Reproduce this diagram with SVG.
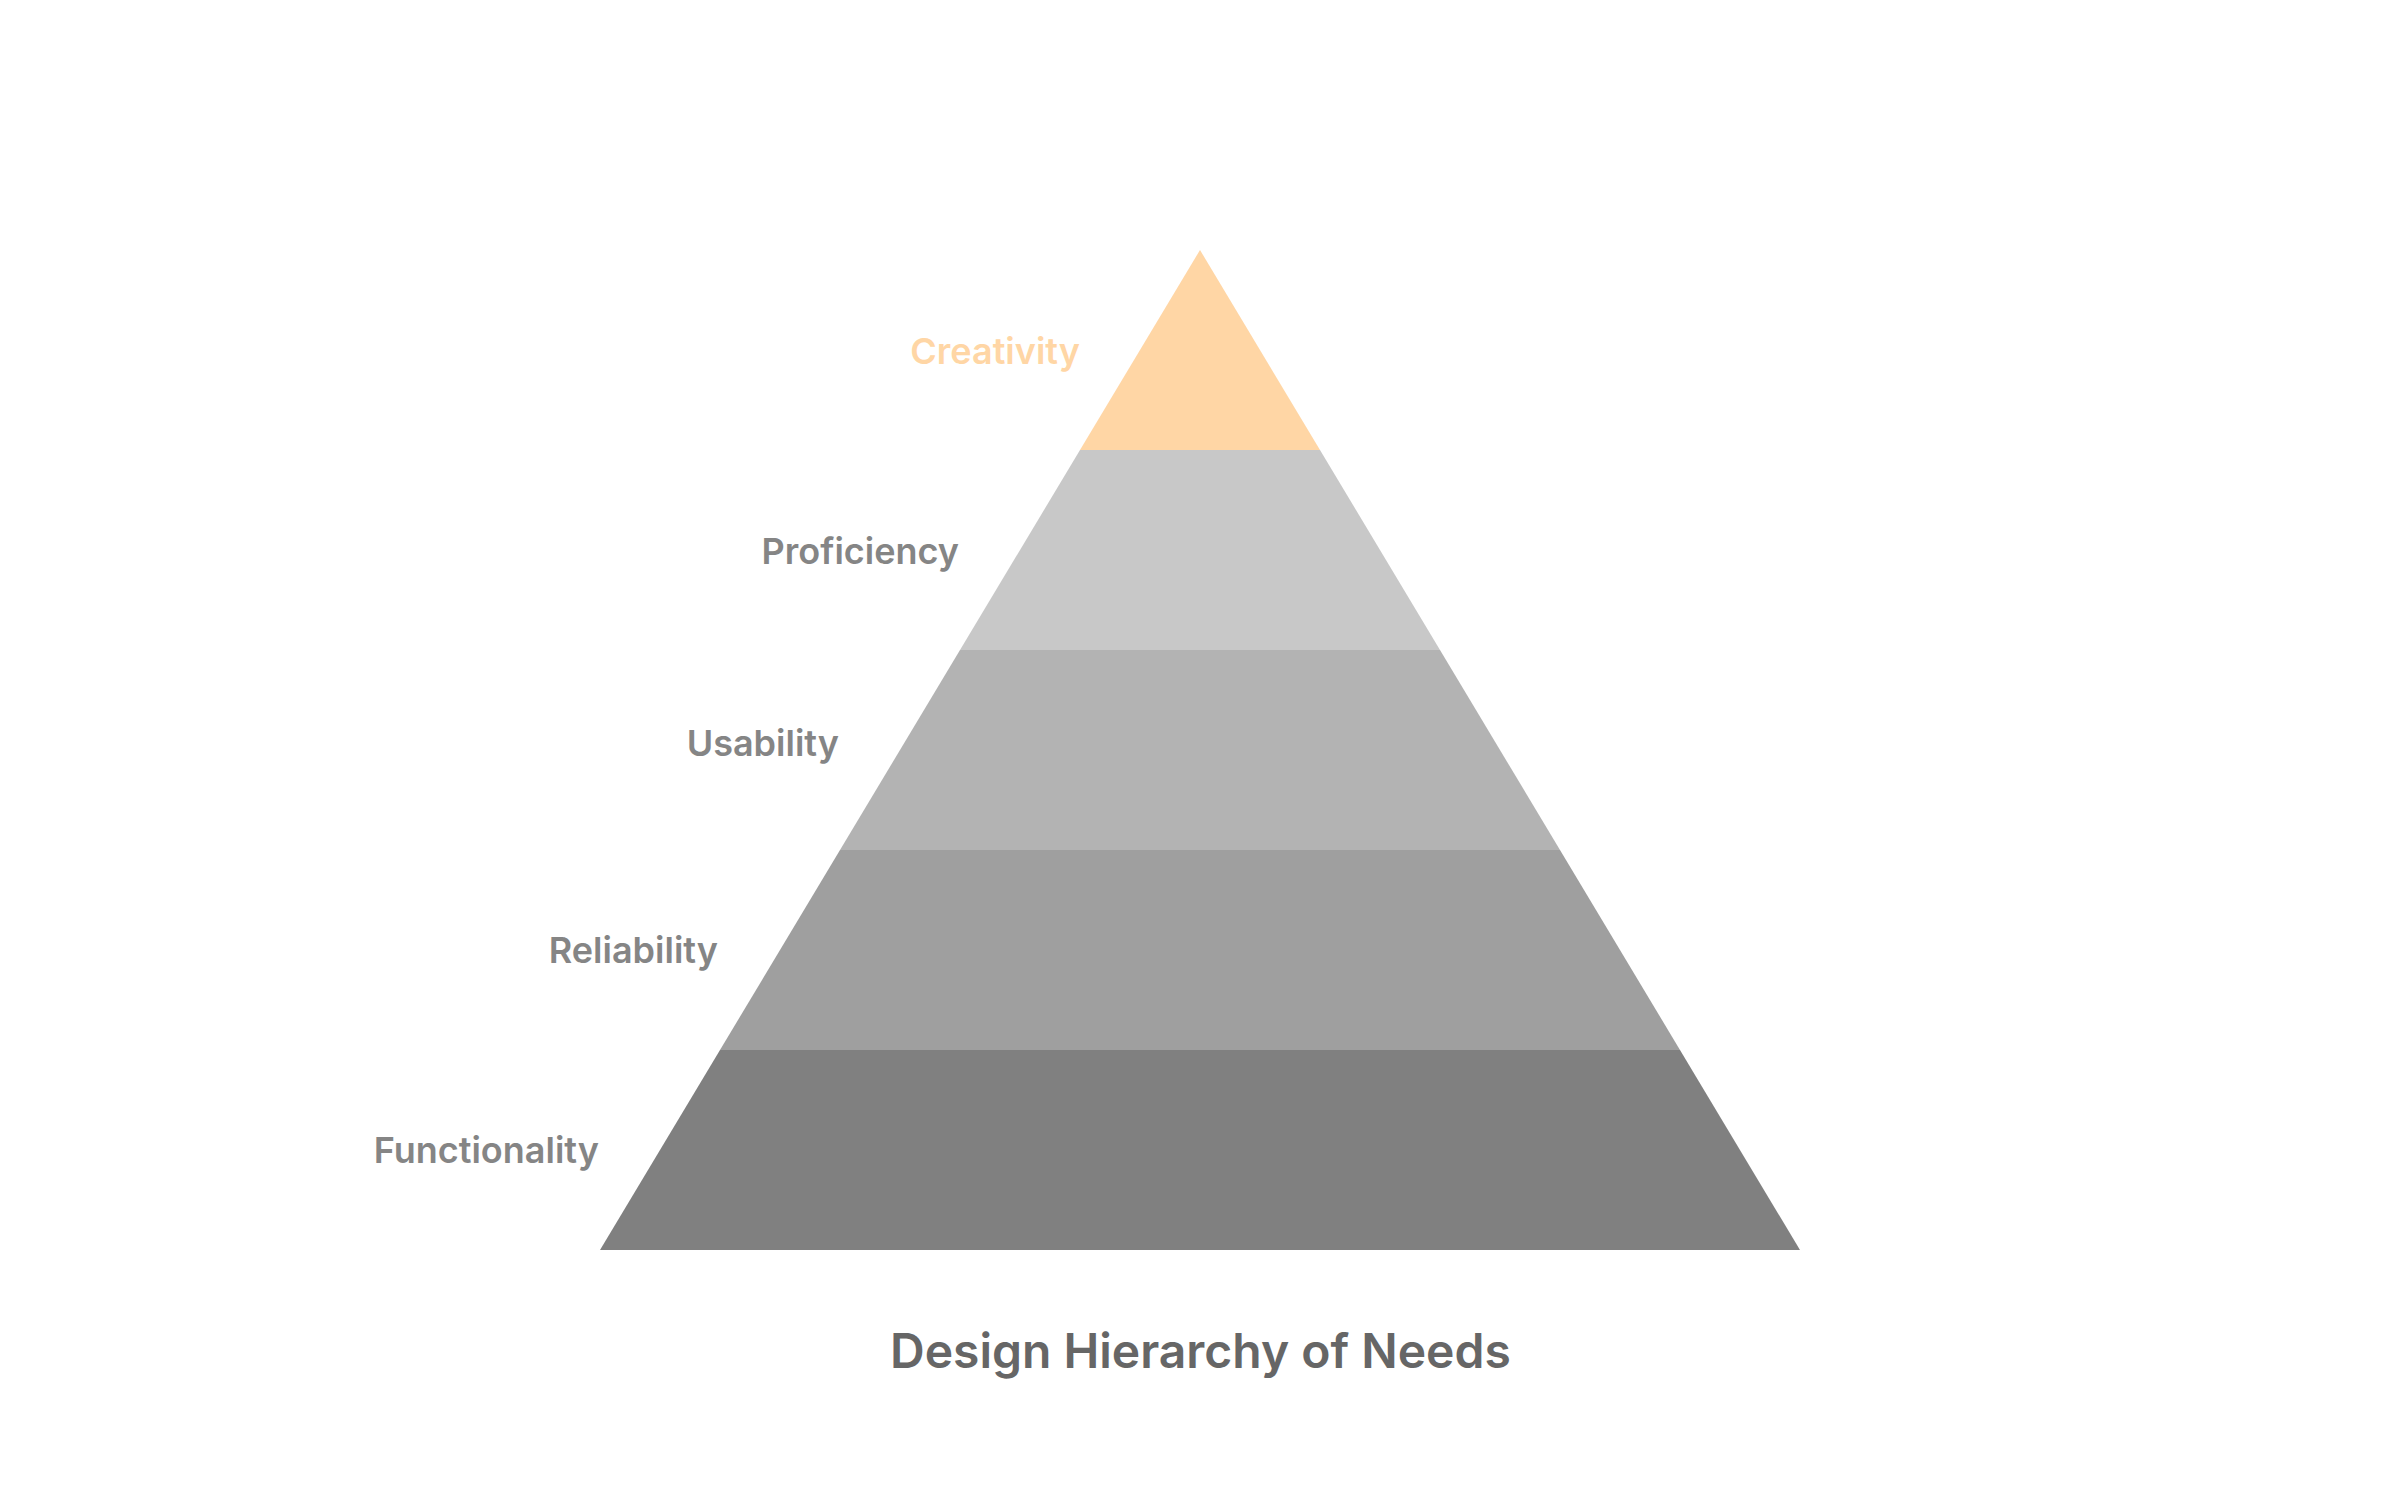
<svg xmlns="http://www.w3.org/2000/svg" width="2400" height="1500" viewBox="0 0 2400 1500">
<style>
.lbl{font-family:Inter,"Noto Sans","Liberation Sans",sans-serif;font-weight:600;font-size:36px;fill:#858585;text-anchor:end}
.title{font-family:Inter,"Noto Sans","Liberation Sans",sans-serif;font-weight:600;font-size:48px;fill:#666666}
</style>
<rect width="2400" height="1500" fill="#ffffff"/>
<g id="creativity">
<polygon points="1200,250 1320,450 1080,450" fill="#FFD6A5"/>
<text class="lbl" x="1080" y="364" style="fill:#FFD6A5">Creativity</text>
</g>
<g id="proficiency">
<polygon points="1080,450 1320,450 1440,650 960,650" fill="#C8C8C8"/>
<text class="lbl" x="959" y="564">Proficiency</text>
</g>
<g id="usability">
<polygon points="960,650 1440,650 1560,850 840,850" fill="#B3B3B3"/>
<text class="lbl" x="839" y="756">Usability</text>
</g>
<g id="reliability">
<polygon points="840,850 1560,850 1680,1050 720,1050" fill="#9F9F9F"/>
<text class="lbl" x="718" y="963">Reliability</text>
</g>
<g id="functionality">
<polygon points="720,1050 1680,1050 1800,1250 600,1250" fill="#808080"/>
<text class="lbl" x="599" y="1163">Functionality</text>
</g>
<g id="connectors"></g>
<g id="title">
<text class="title" x="890" y="1368">Design Hierarchy of Needs</text>
</g>
</svg>
